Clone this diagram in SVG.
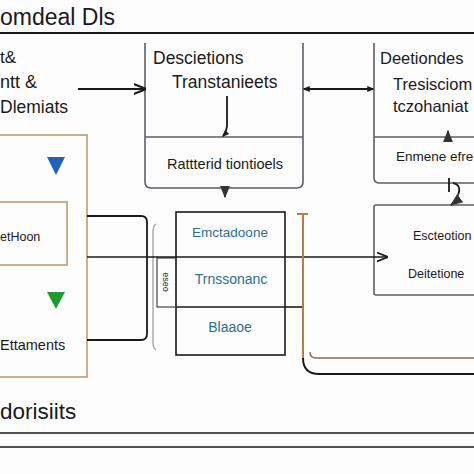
<svg xmlns="http://www.w3.org/2000/svg" width="474" height="474" viewBox="0 0 474 474">
<defs>
<style>
text{font-family:"Liberation Sans",Arial,sans-serif;fill:#1a1a1a}
.box{fill:none;stroke:#5a5f66;stroke-width:1.6}
.tan{fill:none;stroke:#c09a70;stroke-width:1.6}
.ln{fill:none;stroke:#1a1a1a;stroke-width:1.8}
.teal{fill:#2f6f8f}
</style>
<marker id="ah" viewBox="0 0 10 10" refX="9" refY="5" markerWidth="7" markerHeight="7" orient="auto-start-reverse">
<path d="M0,1 L10,5 L0,9" fill="none" stroke="#1a1a1a" stroke-width="1.6"/>
</marker>
<marker id="sm" viewBox="0 0 10 10" refX="8" refY="5" markerWidth="4" markerHeight="4" orient="auto-start-reverse">
<path d="M0,1 L10,5 L0,9 z" fill="#1a1a1a"/>
</marker>
<marker id="af" viewBox="0 0 10 10" refX="9" refY="5" markerWidth="7" markerHeight="7" orient="auto">
<path d="M0,1 L10,5 L0,9 z" fill="#333"/>
</marker>
</defs>
<rect width="474" height="474" fill="#fdfdfd"/>
<g id="header">
<text x="0" y="25" font-size="23">omdeal Dls</text>
<line x1="0" y1="33" x2="474" y2="33" stroke="#1a1a1a" stroke-width="2"/>
</g>
<g id="left-labels">
<text x="0" y="63" font-size="17">t&amp;</text>
<text x="0" y="88" font-size="18">ntt &amp;</text>
<text x="0" y="113" font-size="17.5">Dlemiats</text>
</g>
<g id="box1">
<path class="box" d="M145,43 V182 Q145,188 151,188 H297 Q303,188 303,182 V43"/>
<line class="box" x1="145" y1="137" x2="303" y2="137"/>
<text x="153" y="64" font-size="17.5">Descietions</text>
<text x="172" y="88" font-size="17.5">Transtanieets</text>
<text x="225" y="169" font-size="14.5" text-anchor="middle">Rattterid tiontioels</text>
</g>
<g id="box2">
<path class="box" d="M374,43 V178 Q374,183 380,183 H480"/>
<line class="box" x1="374" y1="137" x2="480" y2="137"/>
<text x="380" y="64" font-size="16.5">Deetiondes</text>
<text x="393" y="90" font-size="16.5">Tresisciom</text>
<text x="393" y="112" font-size="16.5">tczohaniat</text>
<text x="396" y="161" font-size="13.5">Enmene efre</text>
</g>
<g id="leftpanel">
<rect class="tan" x="-2" y="135" width="89" height="242"/>
<rect class="tan" x="-2" y="202" width="69" height="63"/>
<polygon points="47,157 65,157 56,175" fill="#1e63b5"/>
<polygon points="47,292 65,292 56,309" fill="#1f9a2f"/>
<text x="0" y="241" font-size="12.5">etHoon</text>
<text x="0" y="350" font-size="14.5">Ettaments</text>
</g>
<g id="box3">
<rect x="176" y="212" width="109" height="143" fill="none" stroke="#1a1a1a" stroke-width="1.6"/>
<line x1="176" y1="307" x2="285" y2="307" stroke="#1a1a1a" stroke-width="1.6"/>
<text class="teal" x="230" y="237" font-size="13.5" text-anchor="middle">Emctadoone</text>
<text class="teal" x="231" y="284" font-size="14" text-anchor="middle">Trnssonanc</text>
<text class="teal" x="230" y="332" font-size="14" text-anchor="middle">Blaaoe</text>
</g>
<g id="sidebox">
<rect x="157" y="258" width="19" height="49" fill="none" stroke="#444" stroke-width="1.2"/>
<text x="0" y="0" font-size="9" transform="translate(163,282) rotate(90)" text-anchor="middle">eseo</text>
</g>
<g id="box4">
<path class="box" d="M480,205 H376 Q374,205 374,207 V293 Q374,295 376,295 H480"/>
<text x="413" y="240" font-size="12.5">Escteotion</text>
<text x="408" y="278" font-size="12.5">Deitetione</text>
</g>
<g id="footer">
<text x="0" y="419" font-size="22.5">dorisiits</text>
<line x1="0" y1="433" x2="474" y2="433" stroke="#1a1a1a" stroke-width="1.6"/>
<line x1="0" y1="447" x2="474" y2="447" stroke="#1a1a1a" stroke-width="1.6"/>
</g>
<g id="connectors">
<line class="ln" x1="78" y1="89" x2="145" y2="89" marker-end="url(#ah)"/>
<line class="ln" x1="304" y1="89" x2="373" y2="89" stroke-width="2.2" marker-end="url(#sm)" marker-start="url(#sm)"/>
<path class="ln" d="M227,96 V126 Q226,133 223,136" marker-end="url(#sm)"/>
<line class="ln" x1="225" y1="188" x2="225" y2="197" marker-end="url(#af)"/>
<line class="ln" x1="448" y1="137" x2="448" y2="131" marker-end="url(#af)"/>
<path class="ln" d="M449,178 V192 M453,183 Q462,185 458,195 Q455,202 451,205" marker-end="url(#af)"/>
<path class="ln" d="M87,216 H141 Q147,216 147,222 V334 Q147,340 141,340 H87"/>
<path d="M156,224 Q153,226 153,232 V342 Q153,348 156,350" fill="none" stroke="#aaa" stroke-width="1.5"/>
<line x1="87" y1="257" x2="387" y2="257" stroke="#1a1a1a" stroke-width="1.6" marker-end="url(#ah)"/>
<line x1="285" y1="307" x2="303" y2="307" stroke="#1a1a1a" stroke-width="1.6"/>
<line x1="297" y1="214" x2="308" y2="214" stroke="#c07a40" stroke-width="2"/>
<path d="M303,214 V358" fill="none" stroke="#c07a40" stroke-width="2"/>
<path d="M303,358 Q303,374 319,374 H474" fill="none" stroke="#1a1a1a" stroke-width="2"/>
<path d="M310,352 Q310,358 316,358 H474" fill="none" stroke="#8a6a50" stroke-width="1.4"/>
</g>
</svg>
